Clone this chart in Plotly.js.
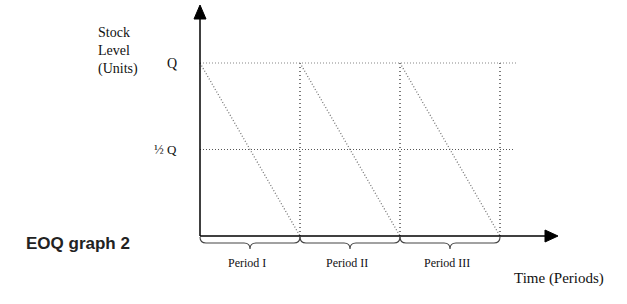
<!DOCTYPE html>
<html><head><meta charset="utf-8">
<script src="https://cdn.plot.ly/plotly-3.0.1.min.js"></script>
<style>html,body{margin:0;padding:0;background:#fff}#c{width:627px;height:304px}</style>
</head><body><div id="c"></div>
<script>
// ---- data ----
const periods = ["Period I", "Period II", "Period III"];
const periodStart = [0, 1, 2];
const periodEnd = [1, 2, 3];
const Q = 1;            // order quantity (stock level at start of each period)
const halfQ = 0.5;      // average stock
const yTickLabels = ["Q", "½ Q"];
const yTickValues = [Q, halfQ];

// ---- scale (layout only) ----
const W = 627, H = 304;
const X0PX = 200, PXPERT = 100;   // t=0 at x=200px, 100px per period
const Y0PX = 236, PXPERQ = 173;   // stock 0 at y=236px
const px2x = p => (p - X0PX) / PXPERT;
const py2y = p => (Y0PX - p) / PXPERQ;
const xRange = [px2x(0), px2x(W)];
const yRange = [py2y(H), py2y(0)];

const traces = [];
// sawtooth diagonals and replenishment verticals
periodStart.forEach((s, i) => {
  traces.push({x: [s, periodEnd[i]], y: [Q, 0], mode: 'lines', hoverinfo: 'skip',
    line: {color: '#777', width: 1.3, dash: '1px,2px'}, showlegend: false});
  traces.push({x: [periodEnd[i], periodEnd[i]], y: [0, Q], mode: 'lines', hoverinfo: 'skip',
    line: {color: '#222', width: 1.2, dash: '1px,3px'}, showlegend: false});
});
// Q and 1/2 Q reference lines
traces.push({x: [0, px2x(516)], y: [Q, Q], mode: 'lines', line: {color: '#888', width: 1.2, dash: '1px,2px'}, showlegend: false, hoverinfo: 'skip'});
traces.push({x: [0, px2x(514)], y: [halfQ, halfQ], mode: 'lines', line: {color: '#555', width: 1.2, dash: '1px,2px'}, showlegend: false, hoverinfo: 'skip'});

const shapes = [];
// axes
shapes.push({type: 'line', xref: 'x', yref: 'y', x0: 0, y0: 0, x1: 0, y1: py2y(18), line: {color: '#000', width: 1.5}});
shapes.push({type: 'line', xref: 'x', yref: 'y', x0: 0, y0: 0, x1: px2x(547), y1: 0, line: {color: '#000', width: 1.5}});
// arrowheads
const tri = pts => 'M ' + pts.map(p => px2x(p[0]) + ',' + py2y(p[1])).join(' L ') + ' Z';
shapes.push({type: 'path', xref: 'x', yref: 'y', path: tri([[194, 19], [206, 19], [200, 5]]), fillcolor: '#000', line: {color: '#000', width: 1}});
shapes.push({type: 'path', xref: 'x', yref: 'y', path: tri([[545, 230], [545, 242], [558, 236]]), fillcolor: '#000', line: {color: '#000', width: 1}});
// braces
periodStart.forEach((s, i) => {
  const a = X0PX + s * PXPERT, b = X0PX + periodEnd[i] * PXPERT, m = (a + b) / 2;
  const P = (x, y) => px2x(x) + ',' + py2y(y);
  const path = 'M ' + P(a, 237) + ' Q ' + P(a, 243) + ' ' + P(a + 6, 243) + ' L ' + P(m - 6, 243) +
    ' Q ' + P(m, 243) + ' ' + P(m, 249) + ' Q ' + P(m, 243) + ' ' + P(m + 6, 243) +
    ' L ' + P(b - 6, 243) + ' Q ' + P(b, 243) + ' ' + P(b, 237);
  shapes.push({type: 'path', xref: 'x', yref: 'y', path: path, line: {color: '#444', width: 1.1}});
});

const serif = 'Liberation Serif, Times New Roman, serif';
const annotations = [];
periods.forEach((p, i) => {
  annotations.push({x: (periodStart[i] + periodEnd[i]) / 2 - 0.03, y: py2y(263), text: p, showarrow: false,
    font: {family: serif, size: 12, color: '#111'}, xanchor: 'center', yanchor: 'middle'});
});
yTickLabels.forEach((t, i) => {
  annotations.push({x: px2x(179), y: yTickValues[i], text: t, showarrow: false, xanchor: 'right', yanchor: 'middle',
    font: {family: serif, size: i === 0 ? 14 : 13, color: '#111'}});
});
annotations.push({x: px2x(96), y: py2y(51), text: 'Stock<br>Level<br>(Units)', showarrow: false, xanchor: 'left', yanchor: 'middle', align: 'left',
  font: {family: serif, size: 14, color: '#111'}});
annotations.push({x: px2x(559), y: py2y(278), text: 'Time (Periods)', showarrow: false, xanchor: 'center', yanchor: 'middle',
  font: {family: serif, size: 15, color: '#111'}});
annotations.push({x: px2x(24), y: py2y(243), text: '<b>EOQ graph 2</b>', showarrow: false, xanchor: 'left', yanchor: 'middle',
  font: {family: 'Liberation Sans, Arial, sans-serif', size: 17, color: '#222'}});

Plotly.newPlot('c', traces, {
  width: W, height: H, margin: {l: 0, r: 0, t: 0, b: 0},
  paper_bgcolor: '#fff', plot_bgcolor: '#fff',
  xaxis: {range: xRange, visible: false, fixedrange: true},
  yaxis: {range: yRange, visible: false, fixedrange: true},
  shapes: shapes, annotations: annotations, showlegend: false
}, {staticPlot: true});
</script></body></html>
